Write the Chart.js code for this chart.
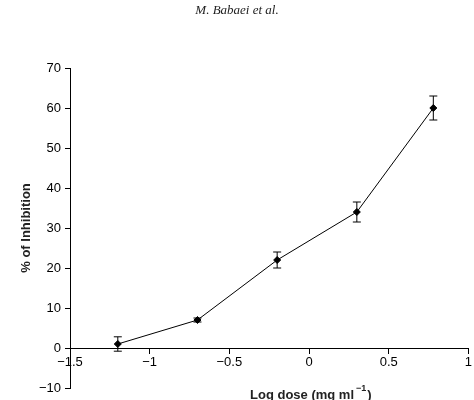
<!DOCTYPE html><html><head><style>html,body{margin:0;background:#fff}#w{width:474px;height:400px}</style>
<script src="https://cdn.jsdelivr.net/npm/chart.js@4/dist/chart.umd.min.js"></script></head><body><div id="w"><canvas id="c"></canvas></div>
<script>
const logDose=[-1.2,-0.7,-0.2,0.3,0.78];
const inhibition=[1,7,22,34,60];
const errors=[1.8,0.5,2,2.5,3];
const xTicks=[-1.5,-1,-0.5,0,0.5,1];
const yTicks=[-10,0,10,20,30,40,50,60,70];
const F='"Liberation Sans", Arial, sans-serif';
const extras={id:'extras',afterDatasetsDraw(ch){
 const c=ch.ctx,x=ch.scales.x,y=ch.scales.y;c.save();c.strokeStyle='#000';c.lineWidth=1;
 logDose.forEach((v,i)=>{const px=x.getPixelForValue(v),t=y.getPixelForValue(inhibition[i]+errors[i]),b=y.getPixelForValue(inhibition[i]-errors[i]);
  c.beginPath();c.moveTo(px,t);c.lineTo(px,b);c.moveTo(px-4,t);c.lineTo(px+4,t);c.moveTo(px-4,b);c.lineTo(px+4,b);c.stroke();});
 c.fillStyle='#222';c.textAlign='center';c.font='italic 13px "Liberation Serif", serif';c.fillText('M. Babaei et al.',237,14);
 c.textAlign='left';c.font='bold 13px '+F;const s1='Log dose (mg ml';const w1=c.measureText(s1).width;let x0=250;c.fillText(s1,x0,399);
 c.font='bold 9px '+F;c.fillText('−1',x0+w1+2,391);const w2=c.measureText('−1').width;c.font='bold 13px '+F;c.fillText(')',x0+w1+w2+3,399);
 c.textAlign='center';c.translate(30,228);c.rotate(-Math.PI/2);c.fillText('% of Inhibition',0,0);c.restore();}};
new Chart(document.getElementById('c'),{type:'scatter',data:{datasets:[{data:logDose.map((v,i)=>({x:v,y:inhibition[i]})),showLine:true,borderColor:'#000',borderWidth:1,backgroundColor:'#000',pointStyle:'rectRot',pointRadius:3.5}]},
options:{responsive:true,maintainAspectRatio:false,animation:false,plugins:{legend:{display:false},tooltip:{enabled:false}},
layout:{padding:{left:0,top:68,right:4,bottom:12}},
scales:{x:{type:'linear',min:-1.5,max:1,position:{y:0},afterBuildTicks:s=>{s.ticks=xTicks.map(v=>({value:v}))},
 grid:{drawOnChartArea:false,tickLength:5,color:'#000'},border:{color:'#000'},ticks:{color:'#000',font:{family:F,size:13},padding:2,callback:v=>v===0?'0':String(v).replace('-','−')}},
 y:{min:-10,max:70,afterFit:s=>{s.width=70},afterBuildTicks:s=>{s.ticks=yTicks.map(v=>({value:v}))},
 grid:{drawOnChartArea:false,tickLength:5,color:'#000'},border:{color:'#000'},ticks:{color:'#000',font:{family:F,size:13},padding:4,callback:v=>String(v).replace('-','−')}}}},
plugins:[extras]});
</script></body></html>
